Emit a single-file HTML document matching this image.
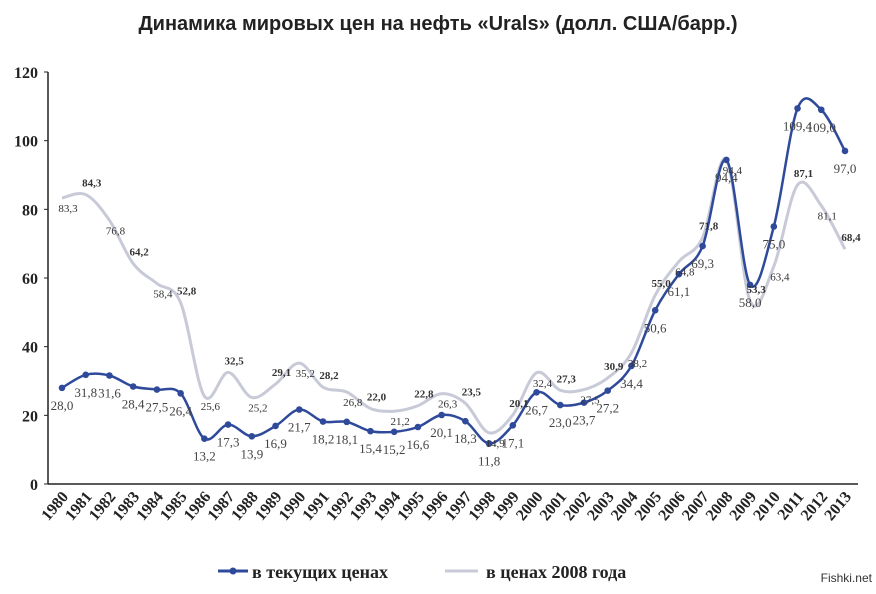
<!DOCTYPE html>
<html><head><meta charset="utf-8"><style>
body{margin:0;background:#fff;}
svg text{font-family:"Liberation Serif",serif;}
</style></head><body>
<svg id="c" width="876" height="589">
<text x="438" y="30" text-anchor="middle" style="font-family:'Liberation Sans',sans-serif;font-weight:bold;font-size:20px" fill="#222">Динамика мировых цен на нефть «Urals» (долл. США/барр.)</text>
<g id="axes"></g><g id="series"></g>
<g>
<line x1="218" y1="571" x2="248" y2="571" stroke="#2f4a9a" stroke-width="3"/>
<circle cx="233" cy="571" r="3.5" fill="#2f4a9a"/>
<text x="252" y="578" font-size="18" font-weight="bold" fill="#222">в текущих ценах</text>
<line x1="445" y1="571" x2="478" y2="571" stroke="#c8cad8" stroke-width="3"/>
<text x="486" y="578" font-size="18" font-weight="bold" fill="#222">в ценах 2008 года</text>
</g>
<text x="872" y="582" text-anchor="end" style="font-family:'Liberation Sans',sans-serif;font-size:12px" fill="#333">Fishki.net</text>
</svg>
<script>
const years=[1980,1981,1982,1983,1984,1985,1986,1987,1988,1989,1990,1991,1992,1993,1994,1995,1996,1997,1998,1999,2000,2001,2002,2003,2004,2005,2006,2007,2008,2009,2010,2011,2012,2013];
const current=[28.0,31.8,31.6,28.4,27.5,26.4,13.2,17.3,13.9,16.9,21.7,18.2,18.1,15.4,15.2,16.6,20.1,18.3,11.8,17.1,26.7,23.0,23.7,27.2,34.4,50.6,61.1,69.3,94.4,58.0,75.0,109.4,109.0,97.0];
const real2008=[83.3,84.3,76.8,64.2,58.4,52.8,25.6,32.5,25.2,29.1,35.2,28.2,26.8,22.0,21.2,22.8,26.3,23.5,14.9,20.1,32.4,27.3,27.5,30.9,38.2,55.0,64.8,71.8,94.4,53.3,63.4,87.1,81.1,68.4];
const yTicks=[0,20,40,60,80,100,120];
const NS="http://www.w3.org/2000/svg";
const X=i=>62+i*(845-62)/33;
const Y=v=>484-v*412/120;
function el(t,a,p){const e=document.createElementNS(NS,t);for(const k in a)e.setAttribute(k,a[k]);p.appendChild(e);return e;}
const ax=document.getElementById('axes'),sr=document.getElementById('series');
const yl=el('line',{x1:48,y1:Y(120),x2:48,y2:484,stroke:'#222','stroke-width':1.5},ax);


const xl=el('line',{x1:48,y1:484,x2:858,y2:484,stroke:'#222','stroke-width':1.5},ax);


yTicks.forEach(t=>{
 el('line',{x1:44,y1:Y(t),x2:48,y2:Y(t),stroke:'#222'},ax);
 const tx=el('text',{x:38,y:Y(t)+6,'text-anchor':'end','font-size':16,'font-weight':'bold',fill:'#222'},ax);
 tx.textContent=t;
 
 
});
years.forEach((yr,i)=>{
 const x0=X(i)+7,y0=497;
 const tx=el('text',{x:x0,y:y0,'text-anchor':'end','font-size':16,'font-weight':'bold',fill:'#222',transform:`rotate(-50 ${x0} ${y0})`},ax);
 tx.textContent=yr;
 
 
});
function path(vals){const p=vals.map((v,i)=>[X(i),Y(v)]);let d=`M${p[0][0]},${p[0][1]}`;
 for(let i=0;i<p.length-1;i++){const p0=p[Math.max(0,i-1)],p1=p[i],p2=p[i+1],p3=p[Math.min(p.length-1,i+2)];
 const c1=[p1[0]+(p2[0]-p0[0])/6,p1[1]+(p2[1]-p0[1])/6],c2=[p2[0]-(p3[0]-p1[0])/6,p2[1]-(p3[1]-p1[1])/6];
 d+=`C${c1[0]},${c1[1]} ${c2[0]},${c2[1]} ${p2[0]},${p2[1]}`;}return d;}
const fmt=v=>v.toFixed(1).replace('.',',');
const g=el('path',{d:path(real2008),fill:'none',stroke:'#c8cad8','stroke-width':3},sr);


const b=el('path',{d:path(current),fill:'none',stroke:'#2f4a9a','stroke-width':2.5},sr);


current.forEach((v,i)=>{
 const c=el('circle',{cx:X(i),cy:Y(v),r:3.3,fill:'#2f4a9a'},sr);
 
 
 const t=el('text',{x:X(i),y:Y(v)+22,'text-anchor':'middle','font-size':13,fill:'#444'},sr);
 t.textContent=fmt(v);
 
 
});
real2008.forEach((v,i)=>{
 const t=el('text',{x:X(i)+6,y:Y(v)-(i%2?8:-14),'text-anchor':'middle','font-size':11,'font-weight':i%2?'bold':'normal',fill:'#333'},sr);
 t.textContent=fmt(v);
 
 
});
</script>
</body></html>
